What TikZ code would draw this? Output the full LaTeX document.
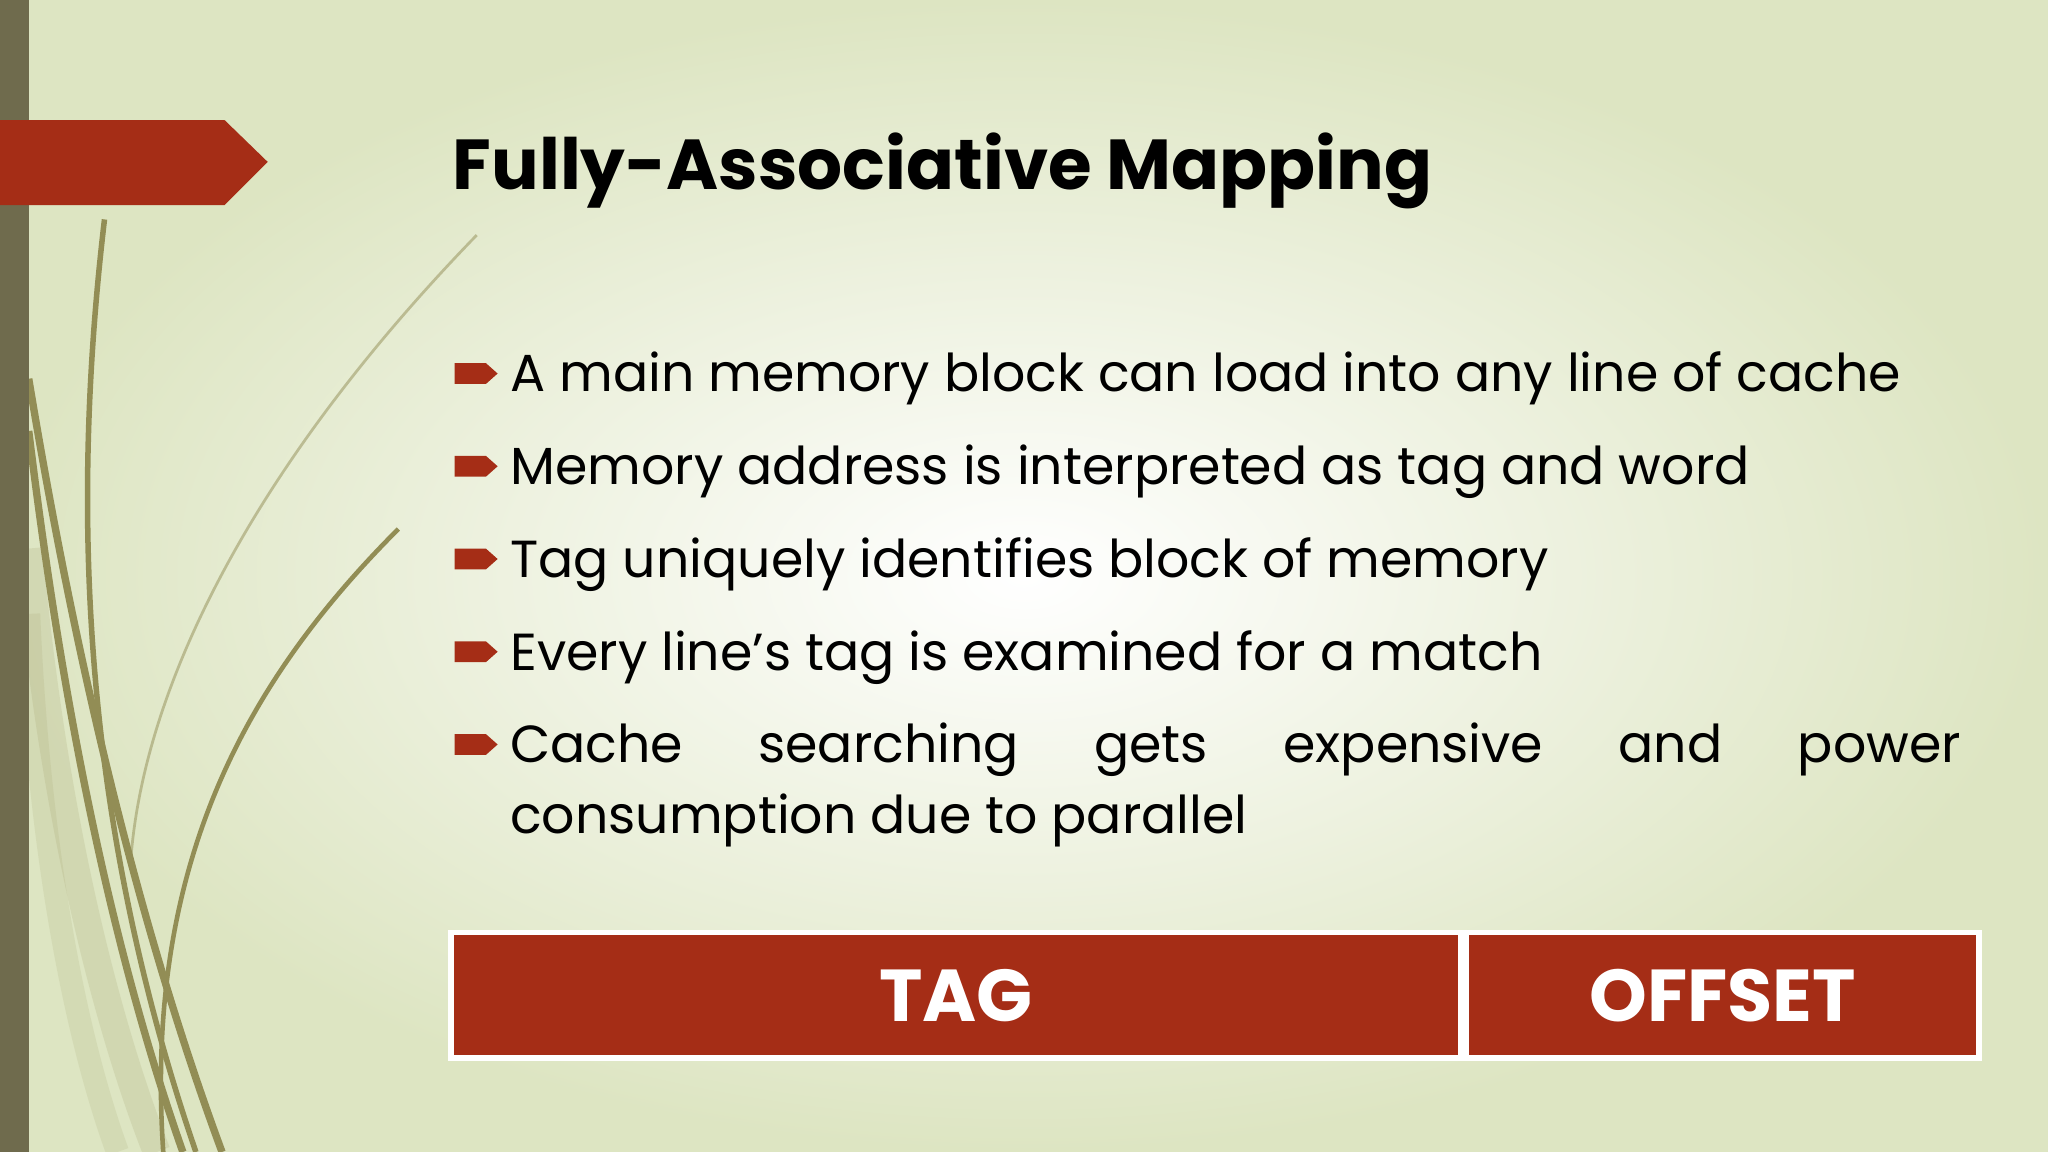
\documentclass[tikz,border=0pt]{standalone}
\usepackage{fontspec}
\setmainfont{Poppins}
\begin{document}
\begin{tikzpicture}[x=0.01cm,y=-0.01cm,
  bul/.style={anchor=base west,inner sep=0pt,font=\fontsize{11.35}{14}\selectfont},
  cur/.style={draw=olive!60!black!70,line width=#1},
  cell/.style={draw=white,line width=1.2pt,fill=rb,text=white,font=\bfseries\fontsize{16}{20}\selectfont}]
\definecolor{bgout}{HTML}{DDE5C2}
\definecolor{rb}{HTML}{A52D16}
\useasboundingbox (0,0) rectangle (1568,882);
\shade[inner color=white,outer color=bgout] (0,0) rectangle (1568,882);
% curves
\draw[cur=0.6pt,opacity=0.5] (365,180) .. controls (200,350) and (110,520) .. (100,660);
\draw[cur=1.2pt] (80,168) .. controls (55,380) and (60,620) .. (150,882);
\draw[cur=1.6pt] (22,290) .. controls (60,520) and (110,720) .. (170,882);
\draw[cur=1.6pt] (22,330) .. controls (50,560) and (90,740) .. (140,882);
\draw[cur=1pt] (305,405) .. controls (190,520) and (110,660) .. (125,882);
\draw[cur=6pt,opacity=0.15] (22,420) .. controls (40,620) and (80,780) .. (120,882);
\draw[cur=5pt,opacity=0.12] (22,470) .. controls (30,660) and (60,800) .. (90,882);
\fill[color=olive!50!black!60!gray] (0,0) rectangle (22,882);
% banner
\fill[rb] (0,92) -- (172,92) -- (205,124) -- (172,157) -- (0,157) -- cycle;
\node[anchor=base west,inner sep=0pt,font=\bfseries\fontsize{15.4}{18}\selectfont] (title) at (346,145) {Fully-Associative Mapping};
% bullets
\foreach \y/\t [count=\i] in {300/A main memory block can load into any line of cache,
 371/Memory address is interpreted as tag and word,
 442/Tag uniquely identifies block of memory,
 513/Every line’s tag is examined for a match}{
  \fill[rb] (348,\y-22) -- (372,\y-22) -- (381,\y-14) -- (372,\y-6) -- (348,\y-6) -- cycle;
  \node[bul] (b\i) at (390,\y) {\t};
}
\fill[rb] (348,562) -- (372,562) -- (381,570) -- (372,578) -- (348,578) -- cycle;
\node[bul] (b5) at (390,584) {\makebox[11.1cm][s]{Cache searching gets expensive and power}};
\node[bul] (b6) at (390,638) {consumption due to parallel};
% table
\node[cell,anchor=north west,inner sep=0pt,minimum width=7.73cm,minimum height=0.96cm] (tag) at (343,712) {TAG};
\node[cell,anchor=north west,inner sep=0pt,minimum width=3.92cm,minimum height=0.96cm] (off) at (tag.north east) {OFFSET};
\end{tikzpicture}
\end{document}
